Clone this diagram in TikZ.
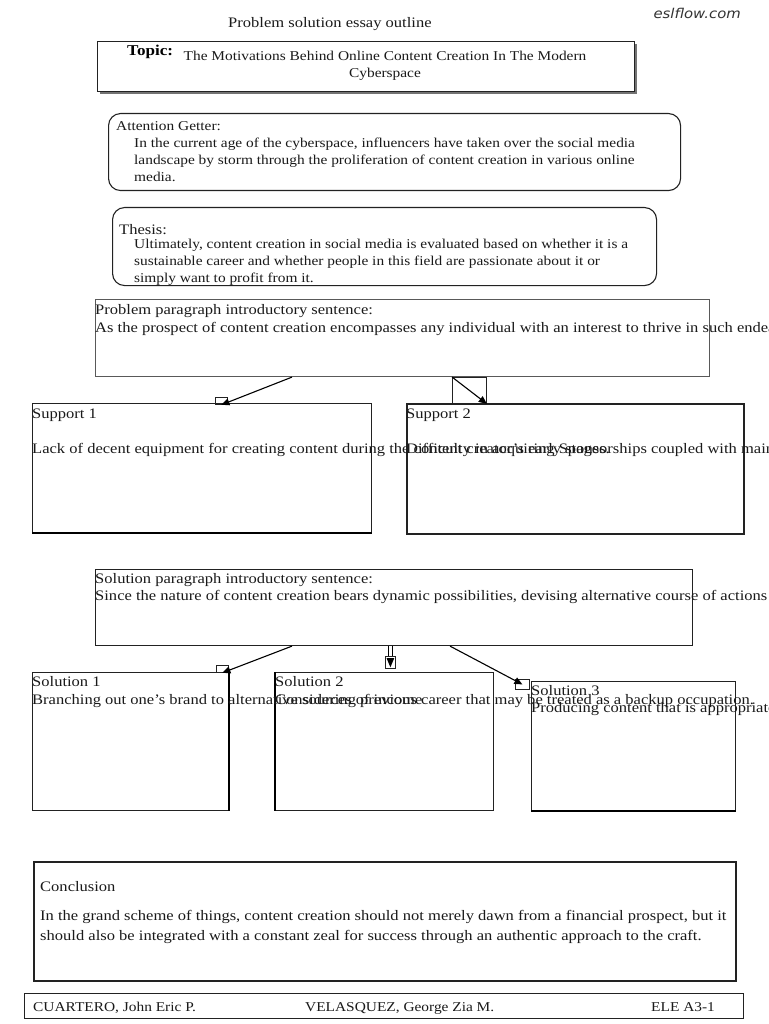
\documentclass[tikz,border=0pt]{standalone}
\usepackage{fontspec}
\setmainfont[FakeStretch=1.14]{Liberation Serif}
\newfontfamily\webfont[FakeStretch=1.1]{DejaVu Sans}
\usetikzlibrary{arrows.meta}
\definecolor{ink}{HTML}{1A1A1A}
\definecolor{edge}{HTML}{222222}
\tikzset{
  x=1pt, y=-1pt,
  box/.style={draw=edge, line width=1.1pt, anchor=north west, inner sep=0pt},
  rbox/.style={box, rounded corners=12pt},
  txt/.style={anchor=base west, inner sep=0pt, text=ink, font=\fontsize{14.5}{17}\selectfont},
  stxt/.style={txt, font=\fontsize{13.5}{16}\selectfont},
  tipbox/.style={draw=edge, line width=0.8pt, anchor=north west, inner sep=0pt},
  conn/.style={draw=black, line width=1.1pt, -{Triangle[length=8pt,width=7pt]}},
}
\begin{document}
\begin{tikzpicture}
\clip (0,0) rectangle (768,1024);
\fill[white] (0,0) rectangle (768,1024);

% title and site
\node[txt, font=\fontsize{14.5}{17}\selectfont] (title) at (228,28) {Problem solution essay outline};
\node[anchor=base east, inner sep=0pt, text=black!80, font=\webfont\itshape\fontsize{13.5}{15}\selectfont] (site) at (741,19) {eslflow.com};

% topic box with shadow
\fill[black!55] (100,44) rectangle (637,94);
\node[box, fill=white, minimum width=537pt, minimum height=50pt] (topic) at (97,41) {};
\node[anchor=base west, inner sep=0pt, font=\bfseries\fontsize{15}{17}\selectfont] (topiclbl) at (127,56) {Topic:};
\node[anchor=base, inner sep=0pt, text=ink, font=\fontsize{13.5}{16}\selectfont] (topic1) at (385,61) {The Motivations Behind Online Content Creation In The Modern};
\node[anchor=base, inner sep=0pt, text=ink, font=\fontsize{13.5}{16}\selectfont] (topic2) at (385,78) {Cyberspace};

% attention getter
\node[rbox, minimum width=572pt, minimum height=77pt] (attn) at (108,113) {};
\node[stxt] (attnlbl) at (116,131) {Attention Getter:};
\node[stxt] (attn1) at (134,148) {In the current age of the cyberspace, influencers have taken over the social media};
\node[stxt] (attn2) at (134,165) {landscape by storm through the proliferation of content creation in various online};
\node[stxt] (attn3) at (134,182) {media.};

% thesis
\node[rbox, minimum width=544pt, minimum height=78pt] (thesis) at (112,207) {};
\node[txt] (thesislbl) at (119,234) {Thesis:};
\node[stxt] (thesis1) at (134,248) {Ultimately, content creation in social media is evaluated based on whether it is a};
\node[stxt] (thesis2) at (134,265) {sustainable career and whether people in this field are passionate about it or};
\node[stxt] (thesis3) at (134,282) {simply want to profit from it.};

% problem paragraph
\node[box, draw=black!65, minimum width=614pt, minimum height=77pt] (prob) at (95,299) {};
\node[txt] (problbl) at (95,314) {Problem paragraph introductory sentence:};
\node[txt] (probtxt) at (95,332) {As the prospect of content creation encompasses any individual with an interest to thrive in such endeavors};

% supports
\node[box, minimum width=339pt, minimum height=129pt] (sup1) at (32,403) {};
\draw[line width=1.6pt] (sup1.south west) -- (sup1.south east);
\node[box, line width=1.6pt, minimum width=337pt, minimum height=130pt] (sup2) at (406,403) {};
\node[txt] (sup1lbl) at (32,418) {Support 1};
\node[txt] (sup1txt) at (32,453) {Lack of decent equipment for creating content during the content creator's early stages.};
\node[txt] (sup2lbl) at (406,418) {Support 2};
\node[txt] (sup2txt) at (406,453) {Difficulty in acquiring Sponsorships coupled with maintaining};

% problem connectors
\node[tipbox, minimum width=12pt, minimum height=7pt] (tipA) at (215,397) {};
\draw[conn] ([xshift=197pt]prob.south west) -- (tipA.south);
\node[tipbox, minimum width=34pt, minimum height=26pt] (tipB) at (452,377) {};
\draw[conn] (tipB.north west) -- (tipB.south east);

% solution paragraph
\node[box, minimum width=597pt, minimum height=76pt] (sol) at (95,569) {};
\node[txt] (sollbl) at (95,583) {Solution paragraph introductory sentence:};
\node[txt] (soltxt) at (95,600) {Since the nature of content creation bears dynamic possibilities, devising alternative course of actions};

% solutions
\node[box, minimum width=196pt, minimum height=138pt] (s1) at (32,672) {};
\draw[line width=1.8pt] (s1.north east) -- (s1.south east);
\node[box, minimum width=218pt, minimum height=138pt] (s2) at (275,672) {};
\draw[line width=1.8pt] (s2.north west) -- (s2.south west);
\node[box, minimum width=204pt, minimum height=129pt] (s3) at (531,681) {};
\draw[line width=2pt] (s3.south west) -- (s3.south east);
\node[txt] (s1lbl) at (32,686) {Solution 1};
\node[txt] (s1txt) at (32,704) {Branching out one's brand to alternative sources of income};
\node[txt] (s2lbl) at (275,686) {Solution 2};
\node[txt] (s2txt) at (275,704) {Considering previous career that may be treated as a backup occupation.};
\node[txt] (s3lbl) at (531,695) {Solution 3};
\node[txt] (s3txt) at (531,712) {Producing content that is appropriate};

% solution connectors
\node[tipbox, minimum width=12pt, minimum height=7pt] (tipC) at (216,665) {};
\draw[conn] ([xshift=197pt]sol.south west) -- (tipC.south);
\node[tipbox, minimum width=10pt, minimum height=12pt] (tipD) at (385,656) {};
\draw[black, line width=0.9pt] ([xshift=293pt]sol.south west) -- ([xshift=293pt,yshift=-10pt]sol.south west);
\draw[black, line width=0.9pt] ([xshift=297pt]sol.south west) -- ([xshift=297pt,yshift=-10pt]sol.south west);
\fill[black] ([xshift=1.5pt,yshift=-2pt]tipD.north west) -- ([xshift=-1.5pt,yshift=-2pt]tipD.north east) -- ([yshift=1.5pt]tipD.south) -- cycle;
\node[tipbox, minimum width=14pt, minimum height=10pt] (tipE) at (515,679) {};
\draw[conn] ([xshift=355pt]sol.south west) -- (tipE.center);

% conclusion
\node[box, line width=1.6pt, minimum width=702pt, minimum height=119pt] (concl) at (33,861) {};
\node[txt] (concllbl) at (40,891) {Conclusion};
\node[txt] (concl1) at (40,920) {In the grand scheme of things, content creation should not merely dawn from a financial prospect, but it};
\node[txt] (concl2) at (40,940) {should also be integrated with a constant zeal for success through an authentic approach to the craft.};

% footer
\node[box, line width=1pt, minimum width=719pt, minimum height=25pt] (foot) at (24,993) {};
\node[stxt] (f1) at (33,1011) {CUARTERO, John Eric P.};
\node[stxt] (f2) at (305,1011) {VELASQUEZ, George Zia M.};
\node[stxt] (f3) at (651,1011) {ELE A3-1};
\end{tikzpicture}
\end{document}
